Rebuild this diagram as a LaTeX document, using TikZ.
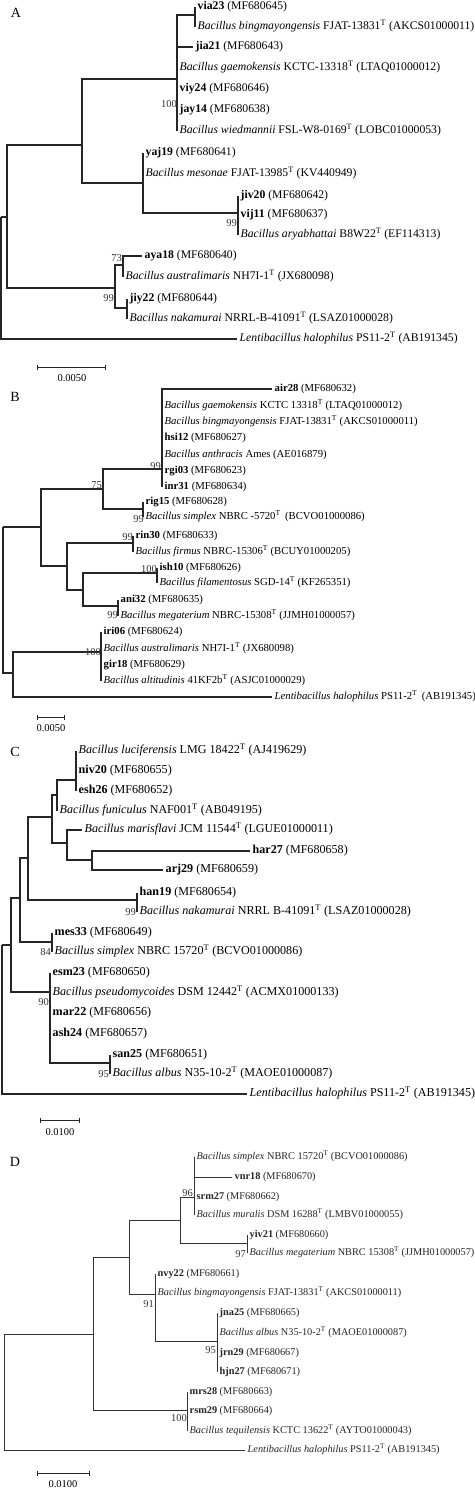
\documentclass[tikz,border=0pt]{standalone}
\usepackage{fontspec}
\setmainfont{Liberation Serif}
\usetikzlibrary{arrows.meta}
\newcommand\tsup{\textsuperscript{T}}
\newcommand\bi[1]{\textit{#1}}
\begin{document}
\begin{tikzpicture}[x=1pt,y=-1pt,
  lf/.style={anchor=west,inner xsep=2.5pt,inner ysep=0pt,text height=0.68em,text depth=0.2em},
  lfA/.style={lf,font=\fontsize{11.7}{13}\selectfont},
  lfB/.style={lf,font=\fontsize{10.7}{12}\selectfont},
  lfC/.style={lf,font=\fontsize{12.1}{13}\selectfont},
  lfD/.style={lf,font=\fontsize{10.3}{12}\selectfont,text=black!85},
  br/.style={line width=1.1pt,draw=black!85},
  brD/.style={line width=0.9pt,draw=black!80},
  bs/.style={anchor=east,inner sep=0pt,font=\fontsize{10.5}{11}\selectfont,text=black!80},
  plab/.style={inner sep=0pt,font=\fontsize{14}{15}\selectfont},
  sbar/.style={line width=1pt,draw=black!85,{Bar[width=5pt]}-{Bar[width=5pt]}},
  slab/.style={inner sep=0pt,font=\fontsize{10.5}{11}\selectfont}]
\useasboundingbox (0,0) rectangle (474,1488);
\clip (0,0) rectangle (474,1488);
\fill[white] (0,0) rectangle (474,1488);

% ---------------- Panel A ----------------
\node[plab] (labA) at (16,13) {A};
\coordinate (A0) at (1,217);
\coordinate (A1) at (7,217);
\coordinate (A2) at (82,145);
\coordinate (A3) at (177,79);
\coordinate (A4) at (195,15);
\coordinate (A5) at (143,183);
\coordinate (A6) at (238,213);
\coordinate (A7) at (115,288);
\coordinate (A8) at (123,265);
\coordinate (A9) at (127,308);
\node[lfA] (via23) at (195,7) {\textbf{via23} (MF680645)};
\node[lfA] (bingA) at (195,27) {\bi{Bacillus bingmayongensis} FJAT-13831\tsup{} (AKCS01000011)};
\node[lfA] (jia21) at (193,47) {\textbf{jia21} (MF680643)};
\node[lfA] (gaemA) at (177,68) {\bi{Bacillus gaemokensis} KCTC-13318\tsup{} (LTAQ01000012)};
\node[lfA] (viy24) at (177,89) {\textbf{viy24} (MF680646)};
\node[lfA] (jay14) at (177,110) {\textbf{jay14} (MF680638)};
\node[lfA] (wiedA) at (177,131) {\bi{Bacillus wiedmannii} FSL-W8-0169\tsup{} (LOBC01000053)};
\node[lfA] (yaj19) at (143,153) {\textbf{yaj19} (MF680641)};
\node[lfA] (mesoA) at (143,174) {\bi{Bacillus mesonae} FJAT-13985\tsup{} (KV440949)};
\node[lfA] (jiv20) at (238,196) {\textbf{jiv20} (MF680642)};
\node[lfA] (vij11) at (238,215) {\textbf{vij11} (MF680637)};
\node[lfA] (aryaA) at (238,235) {\bi{Bacillus aryabhattai} B8W22\tsup{} (EF114313)};
\node[lfA] (aya18) at (142,256) {\textbf{aya18} (MF680640)};
\node[lfA] (austA) at (123,277) {\bi{Bacillus australimaris} NH7I-1\tsup{} (JX680098)};
\node[lfA] (jiy22) at (127,299) {\textbf{jiy22} (MF680644)};
\node[lfA] (nakaA) at (127,319) {\bi{Bacillus nakamurai} NRRL-B-41091\tsup{} (LSAZ01000028)};
\node[lfA] (lentA) at (237,339) {\bi{Lentibacillus halophilus} PS11-2\tsup{} (AB191345)};
\foreach \p/\c in {A0/A1,A0/lentA.west,A1/A2,A1/A7,A2/A3,A2/A5,
  A3/A4,A3/jia21.west,A3/gaemA.west,A3/viy24.west,A3/jay14.west,A3/wiedA.west,
  A4/via23.west,A4/bingA.west,A5/yaj19.west,A5/mesoA.west,A5/A6,
  A6/jiv20.west,A6/vij11.west,A6/aryaA.west,A7/A8,A7/A9,
  A8/aya18.west,A8/austA.west,A9/jiy22.west,A9/nakaA.west}
  \draw[br] (\p) |- (\c);
\node[bs] (bA1) at (177,104) {100};
\node[bs] (bA2) at (237,223) {99};
\node[bs] (bA3) at (122,258) {73};
\node[bs] (bA4) at (114,298) {99};
\coordinate (sA1) at (37,367);
\coordinate (sA2) at (106,367);
\draw[sbar] (sA1) -- (sA2);
\node[slab] (sAl) at (72,378) {0.0050};

% ---------------- Panel B ----------------
\node[plab] (labB) at (15,397) {B};
\coordinate (B0) at (3,527);
\coordinate (B1) at (41,527);
\coordinate (B2) at (103,489);
\coordinate (B3) at (162,469);
\coordinate (B4) at (143,509);
\coordinate (B5) at (67,566);
\coordinate (B6) at (133,543);
\coordinate (B7) at (83,590);
\coordinate (B8) at (157,573);
\coordinate (Bn) at (118,606);
\coordinate (B9) at (13,673);
\coordinate (B10) at (101,652);
\node[lfB] (air28) at (272,389) {\textbf{air28} (MF680632)};
\node[lfB] (gaemB) at (162,406) {\bi{Bacillus gaemokensis} KCTC 13318\tsup{} (LTAQ01000012)};
\node[lfB] (bingB) at (162,422) {\bi{Bacillus bingmayongensis} FJAT-13831\tsup{} (AKCS01000011)};
\node[lfB] (hsi12) at (162,438) {\textbf{hsi12} (MF680627)};
\node[lfB] (anthB) at (162,455) {\bi{Bacillus anthracis} Ames (AE016879)};
\node[lfB] (rgi03) at (162,471) {\textbf{rgi03} (MF680623)};
\node[lfB] (inr31) at (162,487) {\textbf{inr31} (MF680634)};
\node[lfB] (rig15) at (143,502) {\textbf{rig15} (MF680628)};
\node[lfB] (simpB) at (143,517) {\bi{Bacillus simplex} NBRC -5720\tsup{}\, (BCVO01000086)};
\node[lfB] (rin30) at (133,536) {\textbf{rin30} (MF680633)};
\node[lfB] (firmB) at (133,552) {\bi{Bacillus firmus} NBRC-15306\tsup{} (BCUY01000205)};
\node[lfB] (ish10) at (157,568) {\textbf{ish10} (MF680626)};
\node[lfB] (filaB) at (157,583) {\bi{Bacillus filamentosus} SGD-14\tsup{} (KF265351)};
\node[lfB] (ani32) at (118,600) {\textbf{ani32} (MF680635)};
\node[lfB] (megaB) at (118,616) {\bi{Bacillus megaterium} NBRC-15308\tsup{} (JJMH01000057)};
\node[lfB] (iri06) at (101,632) {\textbf{iri06} (MF680624)};
\node[lfB] (austB) at (101,649) {\bi{Bacillus australimaris} NH7I-1\tsup{} (JX680098)};
\node[lfB] (gir18) at (101,665) {\textbf{gir18} (MF680629)};
\node[lfB] (altiB) at (101,681) {\bi{Bacillus altitudinis} 41KF2b\tsup{} (ASJC01000029)};
\node[lfB] (lentB) at (272,697) {\bi{Lentibacillus halophilus} PS11-2\tsup{}\, (AB191345)};
\foreach \p/\c in {B0/B1,B0/B9,B1/B2,B1/B5,B2/B3,B2/B4,
  B3/air28.west,B3/gaemB.west,B3/bingB.west,B3/hsi12.west,B3/anthB.west,B3/rgi03.west,B3/inr31.west,
  B4/rig15.west,B4/simpB.west,B5/B6,B5/B7,B6/rin30.west,B6/firmB.west,
  B7/B8,B7/Bn,B8/ish10.west,B8/filaB.west,Bn/ani32.west,Bn/megaB.west,
  B9/B10,B9/lentB.west,B10/iri06.west,B10/austB.west,B10/gir18.west,B10/altiB.west}
  \draw[br] (\p) |- (\c);
\node[bs] (bB1) at (161,466) {99};
\node[bs] (bB2) at (102,485) {75};
\node[bs] (bB3) at (144,519) {99};
\node[bs] (bB4) at (133,537) {99};
\node[bs] (bB5) at (157,569) {100};
\node[bs] (bB6) at (118,615) {99};
\node[bs] (bB7) at (101,652) {100};
\coordinate (sB1) at (37,717);
\coordinate (sB2) at (65,717);
\draw[sbar] (sB1) -- (sB2);
\node[slab] (sBl) at (51,728) {0.0050};

% ---------------- Panel C ----------------
\node[plab] (labC) at (15,752) {C};
\coordinate (C0) at (2,945);
\coordinate (C1) at (11,945);
\coordinate (C2) at (20,898);
\coordinate (C3) at (28,858);
\coordinate (C4) at (52,817);
\coordinate (CF) at (57,795);
\coordinate (CL) at (76,780);
\coordinate (CM) at (67,843);
\coordinate (CH) at (92,860);
\coordinate (C6) at (137,900);
\coordinate (C7) at (52,942);
\coordinate (C8) at (50,992);
\coordinate (CS) at (110,1063);
\node[lfC] (luciC) at (76,751) {\bi{Bacillus luciferensis} LMG 18422\tsup{} (AJ419629)};
\node[lfC] (niv20) at (76,771) {\textbf{niv20} (MF680655)};
\node[lfC] (esh26) at (76,791) {\textbf{esh26} (MF680652)};
\node[lfC] (fimiC) at (57,811) {\bi{Bacillus funiculus} NAF001\tsup{} (AB049195)};
\node[lfC] (marisC) at (82,830) {\bi{Bacillus marisflavi} JCM 11544\tsup{} (LGUE01000011)};
\node[lfC] (har27) at (250,851) {\textbf{har27} (MF680658)};
\node[lfC] (arj29) at (163,870) {\textbf{arj29} (MF680659)};
\node[lfC] (han19) at (137,893) {\textbf{han19} (MF680654)};
\node[lfC] (nakaC) at (137,912) {\bi{Bacillus nakamurai} NRRL B-41091\tsup{} (LSAZ01000028)};
\node[lfC] (mes33) at (52,933) {\textbf{mes33} (MF680649)};
\node[lfC] (simpC) at (52,952) {\bi{Bacillus simplex} NBRC 15720\tsup{} (BCVO01000086)};
\node[lfC] (esm23) at (50,973) {\textbf{esm23} (MF680650)};
\node[lfC] (pseuC) at (50,993) {\bi{Bacillus pseudomycoides} DSM 12442\tsup{} (ACMX01000133)};
\node[lfC] (mar22) at (50,1013) {\textbf{mar22} (MF680656)};
\node[lfC] (ash24) at (50,1034) {\textbf{ash24} (MF680657)};
\node[lfC] (san25) at (110,1055) {\textbf{san25} (MF680651)};
\node[lfC] (albuC) at (110,1074) {\bi{Bacillus albus} N35-10-2\tsup{} (MAOE01000087)};
\node[lfC] (lentC) at (247,1094) {\bi{Lentibacillus halophilus} PS11-2\tsup{} (AB191345)};
\foreach \p/\c in {C0/C1,C0/lentC.west,C1/C2,C1/C8,C2/C3,C2/C7,C3/C4,C3/C6,
  C4/CF,C4/CM,CF/CL,CF/fimiC.west,CL/luciC.west,CL/niv20.west,CL/esh26.west,
  CM/marisC.west,CM/CH,CH/har27.west,CH/arj29.west,C6/han19.west,C6/nakaC.west,
  C7/mes33.west,C7/simpC.west,C8/esm23.west,C8/pseuC.west,C8/mar22.west,C8/ash24.west,C8/CS,
  CS/san25.west,CS/albuC.west}
  \draw[br] (\p) |- (\c);
\node[bs] (bC1) at (136,912) {99};
\node[bs] (bC2) at (51,952) {84};
\node[bs] (bC3) at (49,1002) {90};
\node[bs] (bC4) at (109,1074) {95};
\coordinate (sC1) at (40,1120);
\coordinate (sC2) at (80,1120);
\draw[sbar] (sC1) -- (sC2);
\node[slab] (sCl) at (60,1132) {0.0100};

% ---------------- Panel D ----------------
\node[plab] (labD) at (15,1162) {D};
\coordinate (D0) at (4,1334);
\coordinate (D1) at (93,1334);
\coordinate (D2) at (129,1257);
\coordinate (D3) at (180,1220);
\coordinate (DS) at (194,1197);
\coordinate (DY) at (247,1243);
\coordinate (D5) at (155,1294);
\coordinate (DJ) at (217,1341);
\coordinate (D6) at (187,1410);
\node[lfD] (simpD) at (194,1157) {\bi{Bacillus simplex} NBRC 15720\tsup{} (BCVO01000086)};
\node[lfD] (vnr18) at (232,1177) {\textbf{vnr18} (MF680670)};
\node[lfD] (srm27) at (194,1197) {\textbf{srm27} (MF680662)};
\node[lfD] (muraD) at (194,1215) {\bi{Bacillus muralis} DSM 16288\tsup{} (LMBV01000055)};
\node[lfD] (yiv21) at (247,1235) {\textbf{yiv21} (MF680660)};
\node[lfD] (megaD) at (247,1253) {\bi{Bacillus megaterium} NBRC 15308\tsup{} (JJMH01000057)};
\node[lfD] (nvy22) at (155,1274) {\textbf{nvy22} (MF680661)};
\node[lfD] (bingD) at (155,1293) {\bi{Bacillus bingmayongensis} FJAT-13831\tsup{} (AKCS01000011)};
\node[lfD] (jna25) at (217,1313) {\textbf{jna25} (MF680665)};
\node[lfD] (albuD) at (217,1333) {\bi{Bacillus albus} N35-10-2\tsup{} (MAOE01000087)};
\node[lfD] (jrn29) at (217,1353) {\textbf{jrn29} (MF680667)};
\node[lfD] (hjn27) at (217,1372) {\textbf{hjn27} (MF680671)};
\node[lfD] (mrs28) at (187,1392) {\textbf{mrs28} (MF680663)};
\node[lfD] (rsm29) at (187,1411) {\textbf{rsm29} (MF680664)};
\node[lfD] (tequD) at (187,1431) {\bi{Bacillus tequilensis} KCTC 13622\tsup{} (AYTO01000043)};
\node[lfD] (lentD) at (245,1450) {\bi{Lentibacillus halophilus} PS11-2\tsup{} (AB191345)};
\foreach \p/\c in {D0/D1,D0/lentD.west,D1/D2,D1/D6,D2/D3,D2/D5,D3/DS,D3/DY,
  DS/simpD.west,DS/vnr18.west,DS/srm27.west,DS/muraD.west,DY/yiv21.west,DY/megaD.west,
  D5/nvy22.west,D5/bingD.west,D5/DJ,DJ/jna25.west,DJ/albuD.west,DJ/jrn29.west,DJ/hjn27.west,
  D6/mrs28.west,D6/rsm29.west,D6/tequD.west}
  \draw[brD] (\p) |- (\c);
\node[bs] (bD1) at (193,1193) {96};
\node[bs] (bD2) at (246,1254) {97};
\node[bs] (bD3) at (154,1304) {91};
\node[bs] (bD4) at (216,1350) {95};
\node[bs] (bD5) at (187,1418) {100};
\coordinate (sD1) at (37,1473);
\coordinate (sD2) at (90,1473);
\draw[sbar] (sD1) -- (sD2);
\node[slab] (sDl) at (63,1484) {0.0100};
\end{tikzpicture}
\end{document}
